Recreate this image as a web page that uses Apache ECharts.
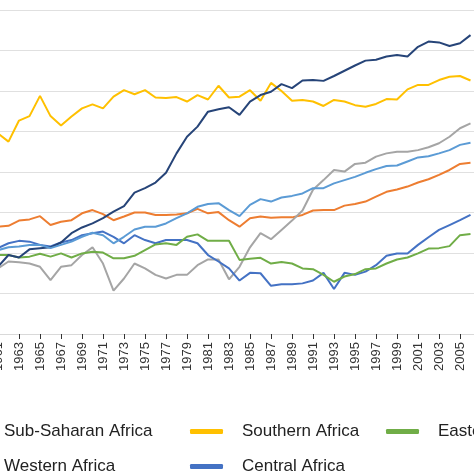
<!DOCTYPE html>
<html>
<head>
<meta charset="utf-8">
<script src="https://cdn.jsdelivr.net/npm/echarts@6/dist/echarts.min.js"></script>
<style>html,body{margin:0;padding:0;background:#fff}#chart{width:474px;height:474px}</style>
</head>
<body>
<div id="chart"></div>
<script>
const years = [];
for (let y = 1961; y <= 2007; y++) years.push(String(y));

const southern = [4.95,4.75,5.27,5.38,5.88,5.38,5.15,5.37,5.57,5.67,5.57,5.86,6.02,5.92,6.02,5.84,5.83,5.85,5.74,5.9,5.79,6.13,5.84,5.86,6.02,5.76,6.2,6.0,5.76,5.78,5.74,5.63,5.78,5.74,5.65,5.61,5.68,5.8,5.79,6.04,6.15,6.15,6.27,6.35,6.37,6.26];
const northern = [1.66,1.95,1.89,2.09,2.12,2.14,2.26,2.49,2.63,2.73,2.86,3.02,3.16,3.49,3.6,3.74,3.98,4.46,4.87,5.12,5.49,5.55,5.6,5.41,5.74,5.9,5.98,6.17,6.07,6.26,6.27,6.25,6.37,6.5,6.63,6.75,6.77,6.85,6.89,6.85,7.09,7.22,7.2,7.11,7.18,7.38];
const western = [1.62,1.79,1.77,1.74,1.66,1.33,1.66,1.7,1.95,2.14,1.74,1.07,1.37,1.74,1.62,1.46,1.37,1.46,1.46,1.7,1.84,1.84,1.35,1.66,2.14,2.49,2.34,2.57,2.8,3.05,3.56,3.8,4.05,4.01,4.2,4.23,4.38,4.46,4.5,4.5,4.54,4.61,4.71,4.87,5.08,5.2];
const africa = [2.07,2.14,2.16,2.2,2.2,2.12,2.2,2.28,2.4,2.5,2.44,2.24,2.4,2.58,2.65,2.65,2.73,2.86,2.98,3.14,3.21,3.23,3.06,2.91,3.19,3.33,3.27,3.37,3.41,3.47,3.6,3.6,3.72,3.8,3.88,3.98,4.07,4.15,4.16,4.26,4.36,4.39,4.46,4.54,4.67,4.72];
const subSaharan = [2.65,2.67,2.8,2.83,2.91,2.69,2.77,2.81,2.98,3.06,2.96,2.81,2.9,3.0,3.0,2.94,2.94,2.95,2.98,3.09,2.98,3.01,2.81,2.65,2.86,2.9,2.87,2.88,2.88,2.94,3.05,3.06,3.06,3.17,3.21,3.27,3.39,3.51,3.57,3.64,3.74,3.82,3.93,4.05,4.2,4.23];
const central = [2.12,2.24,2.3,2.28,2.2,2.16,2.26,2.32,2.44,2.49,2.53,2.4,2.24,2.44,2.32,2.24,2.32,2.32,2.32,2.24,1.95,1.79,1.62,1.32,1.51,1.5,1.19,1.23,1.23,1.25,1.32,1.51,1.11,1.51,1.46,1.54,1.7,1.93,1.99,1.99,2.2,2.39,2.57,2.69,2.81,2.94];
const eastern = [1.95,1.95,1.89,1.91,1.98,1.91,1.99,1.89,1.99,2.03,2.01,1.87,1.87,1.93,2.07,2.21,2.24,2.2,2.4,2.46,2.3,2.3,2.3,1.83,1.86,1.88,1.74,1.78,1.74,1.62,1.6,1.46,1.29,1.42,1.48,1.6,1.62,1.74,1.84,1.89,1.99,2.11,2.12,2.17,2.44,2.47];

const seriesDefs = [
  ['Sub-Saharan Africa', subSaharan, '#ED7D31'],
  ['Western Africa', western, '#A5A5A5'],
  ['Southern Africa', southern, '#FFC000'],
  ['Central Africa', central, '#4472C4'],
  ['Eastern Africa', eastern, '#70AD47'],
  ['Northern Africa', northern, '#264478'],
  ['Africa', africa, '#5B9BD5']
];

// legend slots: [name, left, top]
const legendSlots = [
  ['Sub-Saharan Africa', -53, 418],
  ['Western Africa', -53, 453],
  ['Southern Africa', 185, 418],
  ['Central Africa', 185, 453],
  ['Eastern Africa', 381, 418],
  ['Northern Africa', -300, 418],
  ['Africa', -300, 453]
];

const chart = echarts.init(document.getElementById('chart'));
chart.setOption({
  animation: false,
  grid: { left: -2, right: -7, top: 10, bottom: 140, outerBoundsMode: 'none', containLabel: false },
  legend: legendSlots.map(([name, left, top]) => ({
    left, top, itemWidth: 33, itemHeight: 5, icon: 'roundRect', data: [name],
    textStyle: { fontFamily: 'Liberation Sans', fontSize: 17, color: '#222', padding: [0, 0, 0, 14] }
  })),
  xAxis: {
    type: 'category', data: years, boundaryGap: false,
    axisLine: { lineStyle: { color: '#d9d9d9', width: 1 } },
    axisTick: { interval: 1, length: 5, lineStyle: { color: '#333' } },
    axisLabel: { interval: 1, rotate: 90, fontFamily: 'Liberation Sans', fontSize: 13, color: '#333', margin: 8 }
  },
  yAxis: {
    type: 'value', min: 0, max: 8, interval: 1,
    axisLabel: { show: false },
    splitLine: { lineStyle: { color: '#e0e0e0' } }
  },
  series: seriesDefs.map(([name, data, color]) => ({
    name, type: 'line', data, symbol: 'none',
    lineStyle: { color, width: 2 }, itemStyle: { color }
  }))
});
</script>
</body>
</html>
